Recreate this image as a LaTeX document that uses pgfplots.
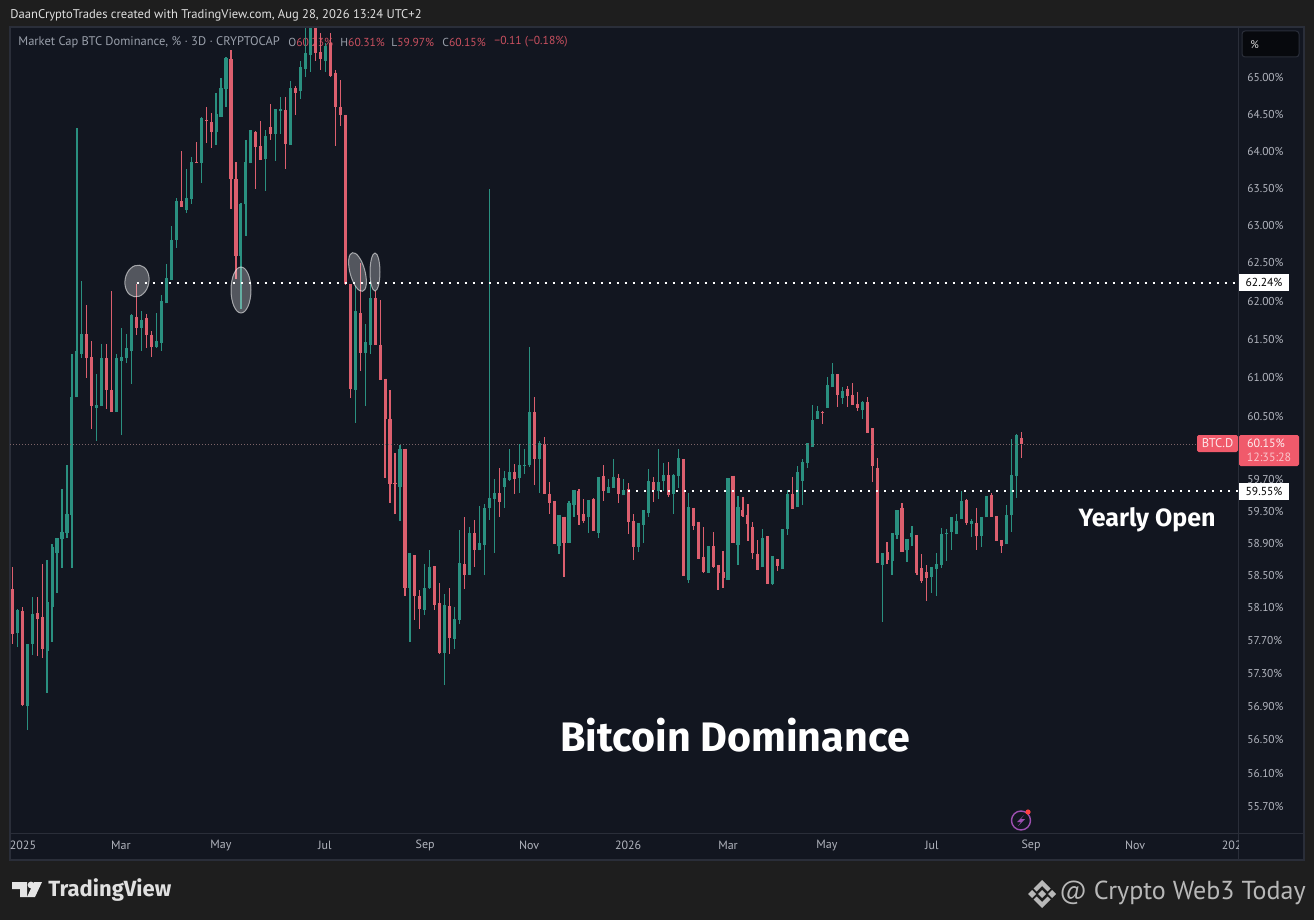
\documentclass[border=0pt]{standalone}
\usepackage{pgfplots}
\usepackage{pgfplotstable}
\usepackage{fontspec}
\pgfplotsset{compat=1.18}
\setmainfont{PT Sans}
\newfontfamily\headf{Fira Sans}
\definecolor{bgout}{HTML}{1E1E1E}
\definecolor{panel}{HTML}{121620}
\definecolor{edge}{HTML}{2A2E39}
\definecolor{upc}{HTML}{2A9080}
\definecolor{dnc}{HTML}{DC5F6E}
\definecolor{axt}{HTML}{B2B5BE}
\definecolor{lgd}{HTML}{9AA0AB}
\definecolor{lred}{HTML}{C9505F}
\definecolor{tag}{HTML}{F05A6B}
\definecolor{bolt}{HTML}{9C4FB0}
\definecolor{pline}{HTML}{7D6468}
\pgfplotstableread{
x o h l c
1 57.79 58.08 57.62 58.07
3 56.90 57.66 56.62 57.66
4 57.66 58.23 57.52 58.02
7 57.57 58.69 57.06 58.17
8 58.11 58.89 57.68 58.85
9 58.78 58.96 58.28 58.96
10 58.95 59.58 58.59 59.04
11 59.03 59.88 58.96 59.27
12 59.25 61.31 58.59 60.75
13 60.75 64.31 60.75 61.35
14 61.31 62.26 61.25 61.57
17 60.61 61.04 60.19 60.65
18 60.64 61.44 60.64 61.25
21 60.56 61.31 60.56 61.25
22 61.22 61.64 60.26 61.27
23 61.25 61.57 61.19 61.38
24 61.34 61.83 60.92 61.81
26 61.65 61.87 61.35 61.75
29 61.40 61.84 61.39 61.48
30 61.45 62.08 61.34 61.99
31 61.97 62.48 61.97 62.30
32 62.28 62.99 62.28 62.81
33 62.81 63.37 62.70 63.33
35 63.21 63.76 63.16 63.36
36 63.35 63.91 63.29 63.85
38 63.84 64.46 63.57 64.45
41 64.26 64.79 64.08 64.50
42 64.46 65.00 64.46 64.86
43 64.84 65.29 64.60 65.27
46 62.59 63.30 61.90 63.29
47 63.28 64.15 62.86 63.85
48 63.83 64.28 63.83 64.28
51 63.89 64.28 63.46 64.21
53 64.23 64.58 63.87 64.57
54 64.54 64.74 64.23 64.57
56 64.08 64.95 64.08 64.86
58 64.82 65.23 64.71 65.14
59 65.12 65.69 65.01 65.34
60 65.32 66.10 65.08 65.75
63 65.23 65.48 65.08 65.44
69 60.84 62.20 60.42 61.86
71 61.32 61.70 60.64 61.47
72 61.43 62.26 61.31 62.04
78 59.61 60.13 59.18 60.09
80 58.35 58.78 57.68 58.78
83 58.07 58.64 58.01 58.35
84 58.34 58.82 58.33 58.60
87 57.55 58.27 57.16 58.13
89 57.72 58.11 57.59 57.96
90 57.95 59.06 57.90 58.65
92 58.51 59.10 58.51 59.03
94 58.81 59.37 58.81 58.90
95 58.88 59.39 58.51 59.34
96 59.34 63.49 59.19 59.47
97 59.46 59.71 58.78 59.53
99 59.61 59.81 59.34 59.72
100 59.69 60.09 59.68 59.80
102 59.72 60.15 59.53 59.88
103 59.87 60.09 59.77 59.88
104 59.88 61.40 59.86 60.56
106 59.96 60.19 59.53 60.16
110 58.86 59.25 58.76 59.25
112 58.90 59.43 58.90 59.40
113 59.38 59.57 59.22 59.57
116 59.22 59.44 59.03 59.44
118 59.03 59.73 58.96 59.73
120 59.53 59.71 59.53 59.61
121 59.59 59.96 59.59 59.73
123 59.50 59.71 59.50 59.57
126 58.85 59.15 58.79 59.15
127 59.13 59.32 58.90 59.32
128 59.28 59.83 59.22 59.68
130 59.55 60.09 59.46 59.67
131 59.68 59.91 59.55 59.76
133 59.52 59.77 59.27 59.76
134 59.75 60.09 59.59 59.97
136 58.44 59.53 58.40 59.35
140 58.53 58.86 58.53 58.86
144 58.45 59.72 58.45 59.72
146 58.88 59.49 58.63 59.35
151 58.60 59.08 58.60 58.96
153 58.39 58.74 58.38 58.74
155 58.58 59.08 58.58 59.08
156 59.08 59.57 59.00 59.52
158 59.35 59.87 59.35 59.80
159 59.68 59.96 59.38 59.92
160 59.91 60.16 59.85 60.16
161 60.11 60.65 60.11 60.46
162 60.47 60.64 60.47 60.57
164 60.61 61.01 60.61 60.91
165 60.88 61.19 60.88 61.05
167 60.74 60.88 60.66 60.83
171 60.58 60.70 60.47 60.69
175 58.63 58.78 57.92 58.78
177 58.68 59.03 58.51 59.03
178 59.00 59.32 58.95 59.32
180 58.81 58.95 58.66 58.95
181 58.98 59.12 58.86 59.03
185 58.48 58.60 58.28 58.60
186 58.58 58.78 58.25 58.64
187 58.63 59.09 58.59 59.01
188 59.01 59.08 58.68 59.03
189 59.04 59.23 58.82 59.23
190 59.01 59.27 59.01 59.18
191 59.20 59.55 59.20 59.43
193 59.14 59.20 58.98 59.18
195 58.99 59.22 58.85 59.22
196 59.22 59.49 59.22 59.49
200 58.89 59.38 58.89 59.25
201 59.25 60.21 59.04 59.76
202 59.75 60.27 59.47 60.26
}\upcandles
\pgfplotstableread{
x o h l c
0 58.33 58.60 57.66 57.78
2 58.06 58.11 56.90 56.91
5 58.03 58.23 57.51 57.96
6 57.99 58.64 57.48 57.59
15 61.57 61.95 61.00 61.25
16 61.27 61.48 60.34 60.64
19 61.25 61.44 60.60 60.84
20 60.84 62.13 60.56 60.56
25 61.79 62.22 61.55 61.65
27 61.77 61.83 61.39 61.56
28 61.56 61.61 61.27 61.40
34 63.32 64.00 63.24 63.24
37 63.85 64.13 63.83 63.83
39 64.42 64.60 64.11 64.41
40 64.39 64.52 64.04 64.26
44 65.26 65.38 63.22 63.62
45 63.62 63.85 62.29 62.59
49 64.26 64.27 63.49 64.05
50 64.07 64.41 63.88 63.88
52 64.32 64.64 64.15 64.23
55 64.56 64.74 63.76 64.09
57 64.86 64.89 64.49 64.79
61 65.75 66.00 65.23 65.34
62 65.36 65.61 65.10 65.26
64 65.48 65.61 65.01 65.03
65 65.07 65.10 64.07 64.60
66 64.60 64.97 64.34 64.49
67 64.49 64.49 62.21 62.22
68 62.22 62.22 60.74 60.86
70 61.84 62.50 61.09 61.32
73 62.04 62.13 61.42 61.42
74 61.43 62.01 60.97 60.97
75 60.99 60.99 59.72 60.47
76 60.47 60.84 59.40 59.64
77 59.66 60.03 59.27 59.64
79 60.09 60.09 58.25 58.35
81 58.75 58.75 57.95 58.25
82 58.25 58.32 57.84 58.08
85 58.61 58.61 58.07 58.14
86 58.16 58.40 57.53 57.55
88 58.12 58.35 57.53 57.73
91 58.64 59.23 58.33 58.51
93 59.03 59.19 58.60 58.81
98 59.53 59.85 59.23 59.42
101 59.80 59.90 59.52 59.71
105 60.56 60.75 59.63 59.96
107 60.15 60.24 59.52 59.52
108 59.52 59.67 59.27 59.40
109 59.43 59.43 58.89 58.89
111 59.23 59.23 58.48 58.90
114 59.55 59.58 59.13 59.25
115 59.27 59.46 59.15 59.18
117 59.46 59.47 59.05 59.05
119 59.75 59.88 59.43 59.55
122 59.72 59.77 59.40 59.52
124 59.58 59.66 59.01 59.17
125 59.18 59.27 58.69 58.85
129 59.67 59.73 59.42 59.57
132 59.76 59.92 59.48 59.50
135 59.96 59.96 58.49 58.49
137 59.34 59.34 59.06 59.12
138 59.17 59.17 58.70 58.70
139 58.73 59.10 58.53 58.54
141 58.86 59.04 58.59 58.60
142 58.63 58.63 58.32 58.53
143 58.54 58.80 58.35 58.47
145 59.75 59.75 58.90 58.90
147 59.32 59.48 59.22 59.24
148 59.25 59.39 58.93 59.14
149 59.10 59.17 58.70 58.78
150 58.76 58.94 58.56 58.56
152 58.99 58.99 58.39 58.39
154 58.70 58.70 58.55 58.61
157 59.52 59.73 59.33 59.33
163 60.56 60.57 60.41 60.55
166 61.04 61.04 60.62 60.78
168 60.86 60.90 60.62 60.77
169 60.78 60.93 60.65 60.65
170 60.66 60.82 60.57 60.61
172 60.69 60.75 60.29 60.29
173 60.35 60.35 59.67 59.87
174 59.85 59.97 58.65 58.65
176 58.79 58.91 58.64 58.69
179 59.34 59.40 58.79 58.79
182 59.00 59.00 58.50 58.53
183 58.59 58.76 58.40 58.43
184 58.54 58.63 58.18 58.47
192 59.44 59.46 59.13 59.15
194 59.15 59.34 58.82 58.99
197 59.50 59.53 59.23 59.23
198 59.24 59.24 58.93 58.93
199 58.94 58.94 58.78 58.86
203 60.23 60.31 59.97 60.15
}\dncandles
\begin{document}
\begin{tikzpicture}
\begin{scope}[x=0.5pt,y=-0.5pt]
\fill[bgout] (0,0) rectangle (1314,920);
\fill[panel] (10,27) rectangle (1304,860);
\draw[edge,line width=0.6pt] (10,27) -- (1304,27) -- (1304,860) -- (10,860) -- cycle;
\draw[edge,line width=0.5pt] (10,833) -- (1304,833);
\draw[edge,line width=0.5pt] (1238,27) -- (1238,860);
\node[anchor=west,inner sep=0,text=white!88!black,font=\fontsize{6.3}{7}\selectfont] at (10,15.5) {DaanCryptoTrades created with TradingView.com, Aug 28, 2026 13:24 UTC+2};
\node[anchor=west,inner sep=0,text=lgd,font=\fontsize{6.25}{7}\selectfont] at (18,42) {Market Cap BTC Dominance, \% · 3D · CRYPTOCAP};
\node[anchor=west,inner sep=0,text=lgd,font=\fontsize{5.8}{7}\selectfont] at (288,42) {O\textcolor{lred}{60.23\%}};
\node[anchor=west,inner sep=0,text=lgd,font=\fontsize{5.8}{7}\selectfont] at (340,42) {H\textcolor{lred}{60.31\%}};
\node[anchor=west,inner sep=0,text=lgd,font=\fontsize{5.8}{7}\selectfont] at (391,42) {L\textcolor{lred}{59.97\%}};
\node[anchor=west,inner sep=0,text=lgd,font=\fontsize{5.8}{7}\selectfont] at (442,42) {C\textcolor{lred}{60.15\%}};
\node[anchor=west,inner sep=0,text=lred,font=\fontsize{5.8}{7}\selectfont] at (494,42) {−0.11 (−0.18\%)};
\end{scope}
\begin{axis}[
  at={(5pt,-417.2pt)},anchor=south west,
  scale only axis,width=614pt,height=403pt,
  ymode=log,
  xmin=-0.46,xmax=246.6,ymin=55.38,ymax=65.69,
  axis line style={draw=none},
  major tick length=0pt,minor tick length=0pt,
  log ticks with fixed point,
  xtick={2.15,21.87,41.99,62.9,83.06,103.98,123.9,144,163.9,185,204.97,225.9},
  xticklabels={2025,Mar,May,Jul,Sep,Nov,2026,Mar,May,Jul,Sep,Nov},
  ytick={65,64.5,64,63.5,63,62.5,62,61.5,61,60.5,59.7,59.3,58.9,58.5,58.1,57.7,57.3,56.9,56.5,56.1,55.7},
  yticklabels={65.00\%,64.50\%,64.00\%,63.50\%,63.00\%,62.50\%,62.00\%,61.50\%,61.00\%,60.50\%,59.70\%,59.30\%,58.90\%,58.50\%,58.10\%,57.70\%,57.30\%,56.90\%,56.50\%,56.10\%,55.70\%},
  minor ytick={},
  yticklabel pos=right,
  xticklabel style={text=axt,font=\fontsize{6}{7}\selectfont,inner sep=0pt,anchor=center,yshift=-5.8pt},
  yticklabel style={text=axt,font=\fontsize{5.7}{7}\selectfont,inner sep=0pt,anchor=west,xshift=4.5pt},
  clip=true,
]
% wicks
\addplot[draw=none,forget plot,error bars/.cd,y dir=both,y explicit,error mark=none,error bar style={draw=upc,line width=0.6pt}]
  table[x=x,y=o,y error plus expr=\thisrow{h}-\thisrow{o},y error minus expr=\thisrow{o}-\thisrow{l}]{\upcandles};
\addplot[draw=none,forget plot,error bars/.cd,y dir=both,y explicit,error mark=none,error bar style={draw=dnc,line width=0.6pt}]
  table[x=x,y=o,y error plus expr=\thisrow{h}-\thisrow{o},y error minus expr=\thisrow{o}-\thisrow{l}]{\dncandles};
% bodies
\addplot[draw=none,forget plot,error bars/.cd,y dir=plus,y explicit,error mark=none,error bar style={draw=upc,line width=1.55pt}]
  table[x=x,y=o,y error plus expr=\thisrow{c}-\thisrow{o}]{\upcandles};
\addplot[draw=none,forget plot,error bars/.cd,y dir=minus,y explicit,error mark=none,error bar style={draw=dnc,line width=1.55pt}]
  table[x=x,y=o,y error minus expr=\thisrow{o}-\thisrow{c}]{\dncandles};
% levels
\addplot[forget plot,draw=pline,line width=0.4pt,dash pattern=on 0.5pt off 1pt] coordinates {(-0.46,60.15) (246.6,60.15)};
\addplot[forget plot,draw=white,line width=1pt,dash pattern=on 1pt off 3pt] coordinates {(25,62.24) (246.6,62.24)};
\addplot[forget plot,draw=white,line width=1pt,dash pattern=on 1pt off 3pt] coordinates {(123.9,59.55) (246.6,59.55)};
\end{axis}
\begin{scope}[x=0.5pt,y=-0.5pt]
% ovals
\draw[fill=white,fill opacity=0.28,draw=white,draw opacity=0.55,line width=0.5pt,rotate around={-10:(137,281)}] (137,281) ellipse[x radius=12,y radius=16];
\draw[fill=white,fill opacity=0.28,draw=white,draw opacity=0.55,line width=0.5pt] (241,290) ellipse[x radius=10,y radius=23];
\draw[fill=white,fill opacity=0.28,draw=white,draw opacity=0.55,line width=0.5pt,rotate around={15:(357.5,272)}] (357.5,272) ellipse[x radius=7.5,y radius=20];
\draw[fill=white,fill opacity=0.28,draw=white,draw opacity=0.55,line width=0.5pt] (375,272) ellipse[x radius=5,y radius=19];
% % box
\draw[fill=black!60!panel,draw=edge,line width=0.5pt,rounded corners=1.5pt] (1242,31) rectangle (1299,57);
\node[anchor=west,inner sep=0,text=white!85!black,font=\fontsize{5.5}{7}\selectfont] at (1250,44.5) {\%};
% tags
\fill[white] (1238.5,274) rectangle (1289,291);
\node[inner sep=0,text=black,font=\fontsize{5.8}{7}\selectfont] at (1264,282.5) {62.24\%};
\fill[white] (1238.5,483) rectangle (1289,500);
\node[inner sep=0,text=black,font=\fontsize{5.8}{7}\selectfont] at (1264,491.5) {59.55\%};
\fill[tag,rounded corners=0.8pt] (1197,435) rectangle (1238,452);
\node[inner sep=0,text=white!85!tag,font=\fontsize{6.3}{7}\selectfont] at (1217.5,443.5) {BTC.D};
\fill[tag,rounded corners=0.8pt] (1239,435) rectangle (1299,466);
\node[inner sep=0,text=white!90!tag,font=\fontsize{6}{7}\selectfont] at (1266,443.5) {60.15\%};
\node[inner sep=0,text=white!65!tag,font=\fontsize{6}{7}\selectfont] at (1269,457.5) {12:35:28};
% clipped year
\begin{scope}
\clip (1190,835) rectangle (1238,859);
\node[inner sep=0,text=axt,font=\fontsize{6}{7}\selectfont] at (1235,845.5) {2027};
\end{scope}
% annotations
\node[inner sep=0,text=white,font=\headf\bfseries\fontsize{12.5}{14}\selectfont] at (1147,520) {Yearly Open};
\node[inner sep=0,text=white,font=\headf\bfseries\fontsize{20.6}{24}\selectfont] at (735,735.5) {Bitcoin Dominance};
% bolt icon
\draw[draw=bolt,line width=0.7pt] (1021,820.5) circle (9.5);
\fill[bolt] (1024,815) -- (1017,822) -- (1021,822) -- (1018,826) -- (1025,819) -- (1021,819) -- cycle;
\fill[red!75!white] (1028,812) circle (2.6);
% TradingView brand
\fill[white!90!black] (12,882) -- (27,882) -- (27,897) -- (20,897) -- (20,889) -- (12,889) -- cycle;
\fill[white!90!black] (31,885) circle (3.4);
\fill[white!90!black] (34,882) -- (42,882) -- (35,897) -- (27,897) -- cycle;
\node[anchor=west,inner sep=0,text=white!88!black,font=\headf\bfseries\fontsize{11}{13}\selectfont] at (48,890.5) {TradingView};
% Binance brand
\fill[white!72!black] (1042,880) -- (1050.5,888.5) -- (1047.5,891.5) -- (1042,886) -- (1036.5,891.5) -- (1033.5,888.5) -- cycle;
\fill[white!72!black] (1042,908) -- (1050.5,899.5) -- (1047.5,896.5) -- (1042,902) -- (1036.5,896.5) -- (1033.5,899.5) -- cycle;
\fill[white!72!black] (1032,890) -- (1036,894) -- (1032,898) -- (1028,894) -- cycle;
\fill[white!72!black] (1052,890) -- (1056,894) -- (1052,898) -- (1048,894) -- cycle;
\fill[white!72!black] (1042,890) -- (1046,894) -- (1042,898) -- (1038,894) -- cycle;
\node[anchor=east,inner sep=0,text=white!72!black,font=\fontsize{13}{15}\selectfont] at (1306,893) {@ Crypto Web3 Today};
\end{scope}
\end{tikzpicture}
\end{document}
